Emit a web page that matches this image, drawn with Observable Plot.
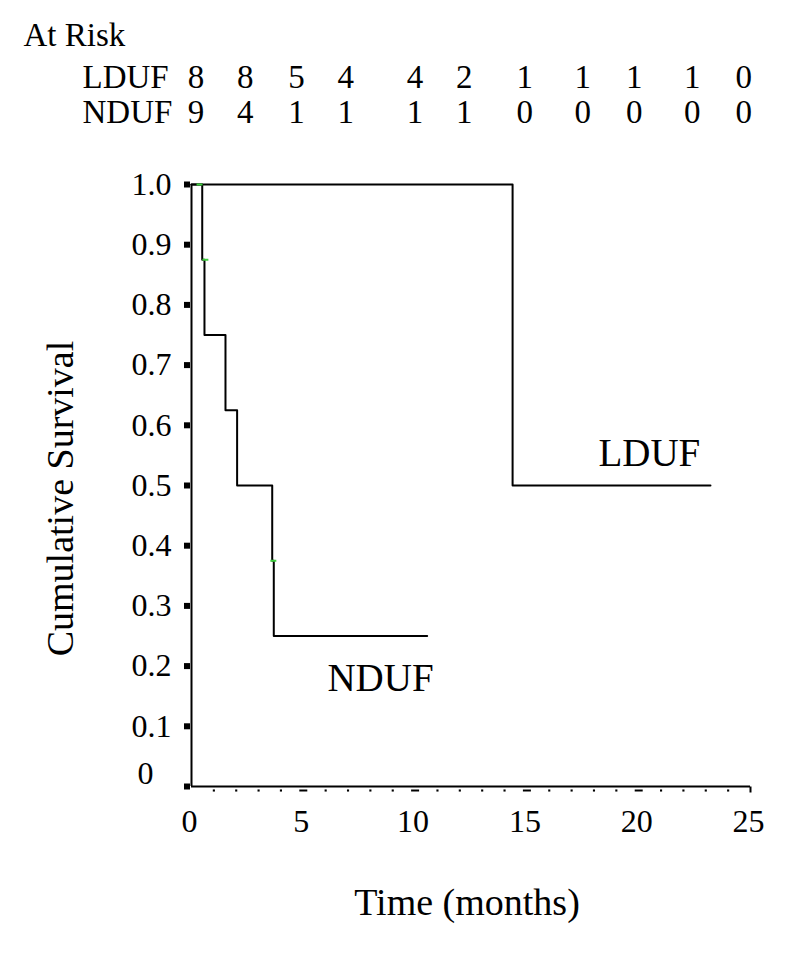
<!DOCTYPE html>
<html>
<head>
<meta charset="utf-8">
<script src="https://cdn.jsdelivr.net/npm/d3@7"></script>
<script src="https://cdn.jsdelivr.net/npm/@observablehq/plot@0.6"></script>
<style>
  html, body { margin: 0; padding: 0; background: #fff; }
  #chart svg { display: block; }
</style>
</head>
<body>
<div id="chart"></div>
<script>
// ---- data ----
const groups = ["LDUF", "NDUF"];
const ldufTime = [0, 14.36, 23.21];
const ldufSurv = [1.0, 0.5, 0.5];
const ndufTime = [0, 0.48, 0.58, 1.52, 2.04, 3.61, 3.68, 10.54];
const ndufSurv = [1.0, 0.875, 0.75, 0.625, 0.5, 0.375, 0.25, 0.25];
const censorTime = [0.36, 0.62, 3.66];
const censorSurv = [1.0, 0.875, 0.375];
const atRiskTime = [0.2, 2.4, 4.7, 6.9, 10.0, 12.2, 14.9, 17.5, 19.8, 22.4, 24.7];
const atRiskLDUF = [8, 8, 5, 4, 4, 2, 1, 1, 1, 1, 0];
const atRiskNDUF = [9, 4, 1, 1, 1, 1, 0, 0, 0, 0, 0];
const yTicks = [0, 0.1, 0.2, 0.3, 0.4, 0.5, 0.6, 0.7, 0.8, 0.9, 1.0];
const xTicks = [0, 5, 10, 15, 20, 25];
const xMajorDash = [5, 10, 15, 20];
const xMinorTicks = [1, 2, 3, 4, 6, 7, 8, 9, 11, 12, 13, 14, 16, 17, 18, 19, 21, 22, 23, 24];

// ---- tables built from arrays ----
const lduf = ldufTime.map((t, i) => ({time: t, surv: ldufSurv[i]}));
const nduf = ndufTime.map((t, i) => ({time: t, surv: ndufSurv[i]}));
const censor = censorTime.map((t, i) => ({time: t, surv: censorSurv[i]}));
const riskL = atRiskTime.map((t, i) => ({time: t, n: atRiskLDUF[i]}));
const riskN = atRiskTime.map((t, i) => ({time: t, n: atRiskNDUF[i]}));

const hline = {draw(ctx, size) { const r = Math.sqrt(size / Math.PI); ctx.moveTo(-r, 0); ctx.lineTo(r, 0); }};
const vline = {draw(ctx, size) { const r = Math.sqrt(size / Math.PI); ctx.moveTo(0, -r); ctx.lineTo(0, r); }};

const FONT = '"Liberation Serif", "Times New Roman", Times, serif';

const chart = Plot.plot({
  width: 785,
  height: 962,
  marginLeft: 191,
  marginRight: 35,
  marginTop: 184,
  marginBottom: 176,
  style: {fontFamily: FONT, fontSize: "32px", background: "#fff", color: "#000", overflow: "visible"},
  x: {domain: [0, 25]},
  y: {domain: [0, 1]},
  marks: [
    // axes lines
    Plot.ruleX([0], {y1: 0, y2: 1, stroke: "#000", strokeWidth: 2}),
    Plot.ruleY([0], {x1: 0, x2: 25, stroke: "#000", strokeWidth: 2}),
    // y ticks (square marks) and labels
    Plot.axisY({ticks: yTicks, tickSize: 6, tickPadding: 13, strokeWidth: 6, dx: -1,
      tickFormat: d => d === 0 ? "" : d.toFixed(1), label: null, fontSize: 32, fontFamily: FONT}),
    Plot.text(["0"], {frameAnchor: "bottom-left", textAnchor: "start", lineAnchor: "middle",
      dx: -54, dy: -13, fontSize: 32, fontFamily: FONT}),
    // x ticks: labels, dashes and minor dots
    Plot.axisX({ticks: xTicks, tickSize: 0, tickPadding: 23, label: null, fontSize: 32, dx: -2, fontFamily: FONT}),
    Plot.dot(xMajorDash, {x: d => d, frameAnchor: "bottom", dy: 4, symbol: hline, r: 4, stroke: "#000", strokeWidth: 2}),
    Plot.dot(xMinorTicks, {x: d => d, frameAnchor: "bottom", dy: 4, symbol: "square", r: 1.2, fill: "#000", stroke: null}),
    Plot.dot([25], {x: d => d, frameAnchor: "bottom", dy: 3, symbol: vline, r: 3, stroke: "#000", strokeWidth: 2}),
    // survival curves
    Plot.line(lduf, {x: "time", y: "surv", curve: "step-after", stroke: "#000", strokeWidth: 2}),
    Plot.line(nduf, {x: "time", y: "surv", curve: "step-after", stroke: "#000", strokeWidth: 2}),
    Plot.dot(censor, {x: "time", y: "surv", symbol: hline, r: 3, stroke: "#3ecf3e", strokeWidth: 2}),
    // curve labels
    Plot.text([groups[0]], {x: 18.2, y: 0.533, text: d => d, textAnchor: "start", lineAnchor: "bottom", fontSize: 39, fontFamily: FONT}),
    Plot.text([groups[1]], {x: 6.08, y: 0.158, text: d => d, textAnchor: "start", lineAnchor: "bottom", fontSize: 39, fontFamily: FONT}),
    // at-risk table
    Plot.text(["At Risk"], {frameAnchor: "top-left", textAnchor: "start", lineAnchor: "bottom", dx: -168, dy: -139, fontSize: 33, fontFamily: FONT}),
    Plot.text([groups[0]], {frameAnchor: "top-left", textAnchor: "start", lineAnchor: "bottom", dx: -109, dy: -97, fontSize: 33, fontFamily: FONT}),
    Plot.text([groups[1]], {frameAnchor: "top-left", textAnchor: "start", lineAnchor: "bottom", dx: -109, dy: -62, fontSize: 33, fontFamily: FONT}),
    Plot.text(riskL, {x: "time", text: d => String(d.n), frameAnchor: "top", lineAnchor: "bottom", dy: -97, fontSize: 33, fontFamily: FONT}),
    Plot.text(riskN, {x: "time", text: d => String(d.n), frameAnchor: "top", lineAnchor: "bottom", dy: -62, fontSize: 33, fontFamily: FONT}),
    // axis titles
    Plot.text(["Cumulative Survival"], {frameAnchor: "left", textAnchor: "middle", rotate: -90, lineAnchor: "middle", dx: -131, dy: 13, fontSize: 38, fontFamily: FONT}),
    Plot.text(["Time (months)"], {frameAnchor: "bottom", textAnchor: "middle", lineAnchor: "bottom", dx: -4, dy: 128, fontSize: 38, fontFamily: FONT})
  ]
});
document.getElementById("chart").appendChild(chart);
</script>
</body>
</html>
